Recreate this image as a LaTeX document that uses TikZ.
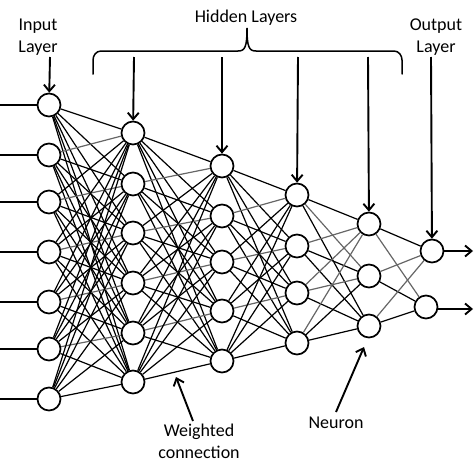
\documentclass[tikz,border=0pt]{standalone}
\usepackage{fontspec}
\setmainfont{Carlito}
\usetikzlibrary{arrows.meta}
\begin{document}
\begin{tikzpicture}[x=1pt,y=-1pt,
  neuron/.style={circle,draw=black,line width=1.7pt,fill=white,minimum size=23pt,inner sep=0pt},
  conn/.style={line width=1.2pt,black},
  conng/.style={line width=1.2pt,black!60},
  pointer/.style={line width=1.9pt,-{Straight Barb[length=6.5pt,width=11pt]}},
  lbl/.style={font=\fontsize{18}{22}\selectfont,align=center,inner sep=0pt},
  brace/.style={line width=1.5pt,line cap=round}]
\useasboundingbox (0,0) rectangle (474,474);
% input layer
\foreach \y [count=\k] in {105,155,202,252,302,349,399}{
  \node[neuron] (i\k) at (49,\y) {};
  \coordinate (s\k) at (0,\y);
  \draw[line width=1.4pt] (s\k) -- (i\k);
}
% hidden layer 1
\foreach \y [count=\k] in {133,184,233,283,333,382}{
  \node[neuron] (ha\k) at (133,\y) {};
}
% hidden layer 2
\foreach \y [count=\k] in {166,216,262,311,361}{
  \node[neuron] (hb\k) at (222,\y) {};
}
% hidden layer 3
\foreach \y [count=\k] in {195,246,293,343}{
  \node[neuron] (hc\k) at (297,\y) {};
}
% hidden layer 4
\foreach \y [count=\k] in {224,276,326}{
  \node[neuron] (hd\k) at (369,\y) {};
}
% output layer
\node[neuron] (o1) at (432,251) {};
\node[neuron] (o2) at (426,307) {};
% connections
\foreach \a in {1,...,7}{\foreach \b in {1,...,6}{
  \pgfmathtruncatemacro\d{\a-\b}
  \ifnum\d=1 \ifnum\a<7 \draw[conng] (i\a) -- (ha\b); \else \draw[conn] (i\a) -- (ha\b); \fi
  \else \draw[conn] (i\a) -- (ha\b); \fi}}
\foreach \a in {1,...,6}{\foreach \b in {1,...,5}{
  \pgfmathtruncatemacro\d{\a-\b}
  \ifnum\d=1 \ifnum\a<6 \draw[conng] (ha\a) -- (hb\b); \else \draw[conn] (ha\a) -- (hb\b); \fi
  \else \draw[conn] (ha\a) -- (hb\b); \fi}}
\foreach \a in {1,...,5}{\foreach \b in {1,...,4}{
  \pgfmathtruncatemacro\d{\a-\b}
  \ifnum\d=1 \ifnum\a<5 \draw[conng] (hb\a) -- (hc\b); \else \draw[conn] (hb\a) -- (hc\b); \fi
  \else \draw[conn] (hb\a) -- (hc\b); \fi}}
\draw[conn] (hc1) -- (hd1);
\draw[conng] (hc1) -- (hd2);
\draw[conn] (hc1) -- (hd3);
\draw[conng] (hc2) -- (hd1);
\draw[conn] (hc2) -- (hd2);
\draw[conn] (hc2) -- (hd3);
\draw[conng] (hc3) -- (hd1);
\draw[conng] (hc3) -- (hd2);
\draw[conn] (hc3) -- (hd3);
\draw[conng] (hc4) -- (hd1);
\draw[conn] (hc4) -- (hd2);
\draw[conn] (hc4) -- (hd3);
\draw[conn] (hd1) -- (o1);
\draw[conng] (hd1) -- (o2);
\draw[conng] (hd2) -- (o1);
\draw[conn] (hd2) -- (o2);
\draw[conng] (hd3) -- (o1);
\draw[conn] (hd3) -- (o2);
% outputs
\coordinate (e1) at (473,251);
\coordinate (e2) at (473,309);
\draw[pointer] (o1) -- (e1);
\draw[pointer] (o2.east |- e2) -- (e2);
% labels
\node[lbl] (inlbl) at (38,37) {Input\\Layer};
\node[lbl] (outlbl) at (436,37) {Output\\Layer};
\node[lbl] (hidlbl) at (246,18) {Hidden Layers};
\node[lbl] (wlbl) at (199,441) {Weighted\\connection};
\node[lbl] (nlbl) at (336,423) {Neuron};
% top arrows
\coordinate (ti) at (50,57);
\coordinate (t1) at (134,57);
\coordinate (t2) at (222,57);
\coordinate (t3) at (298,57);
\coordinate (t4) at (368,57);
\coordinate (to) at (431,57);
\draw[pointer] (ti) -- (i1);
\draw[pointer] (t1) -- (ha1);
\draw[pointer] (t2) -- (hb1);
\draw[pointer] (t3) -- (hc1);
\draw[pointer] (t4) -- (hd1);
\draw[pointer] (to) -- (o1);
% brace
\draw[brace] (93,74) -- (93,60) to[out=90,in=180] (101,51) -- (238,51)
  .. controls (245,51) and (247,47) .. (247,28)
  .. controls (247,47) and (249,51) .. (256,51) -- (394,51)
  to[out=0,in=90] (402,60) -- (402,74);
% bottom arrows
\coordinate (wa) at (193,421);
\coordinate (wb) at (176,377);
\draw[pointer] (wa) -- (wb);
\coordinate (na) at (336,412);
\coordinate (nb) at (364,347);
\draw[pointer] (na) -- (nb);
\end{tikzpicture}
\end{document}
